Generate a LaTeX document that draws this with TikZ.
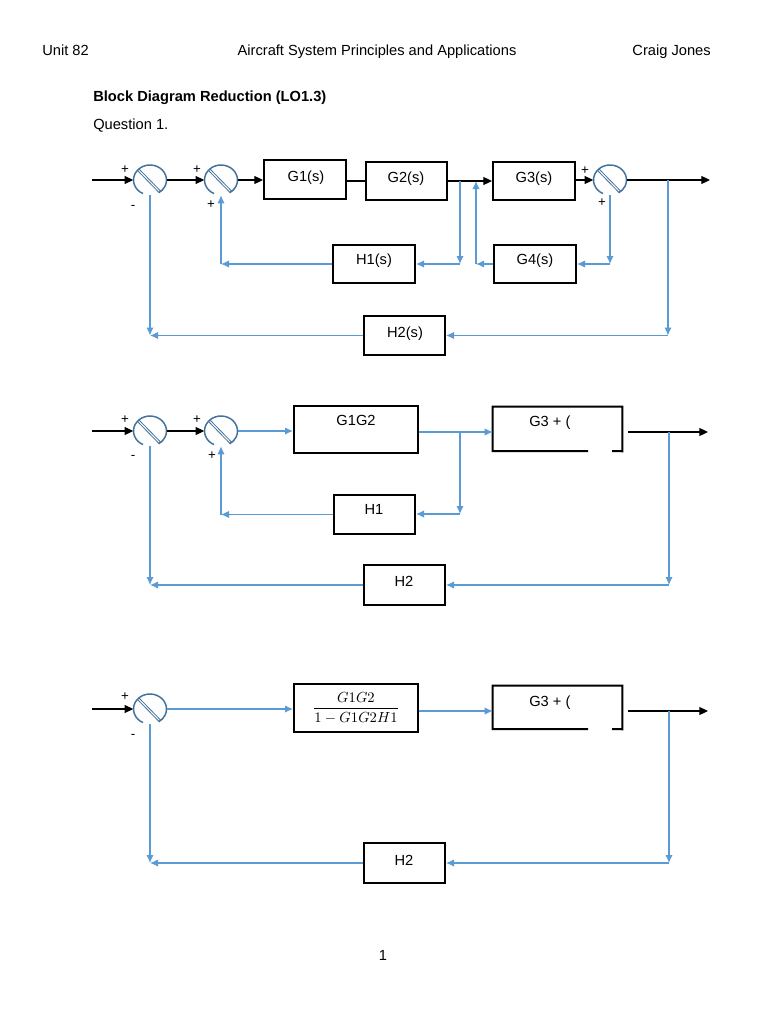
\documentclass[tikz,border=0pt]{standalone}
\usepackage{fontspec}
\setmainfont{Liberation Sans}
\usetikzlibrary{arrows.meta,shapes.geometric,fit}
\definecolor{fbblue}{RGB}{91,155,213}
\definecolor{sumblue}{RGB}{65,113,156}
\newcommand\drawsumj[1]{%
  \draw[sumline] ([shift={(115:16.5 and 15)}]#1.center) arc[start angle=115,end angle=418,x radius=16.5,y radius=15];
  \draw[sumline,line width=0.6pt] ([shift={(-12.5,-9.5)}]#1.center) -- ([shift={(9,12.5)}]#1.center);
  \draw[sumline,line width=0.6pt] ([shift={(-11,-11)}]#1.center) -- ([shift={(11,11.5)}]#1.center);
}
\begin{document}
\begin{tikzpicture}[x=0.75pt,y=-0.75pt,
  every node/.style={font=\fontsize{11}{13}\selectfont},
  box/.style={draw=black,line width=1.5pt,inner sep=0pt},
  hbox/.style={inner sep=0pt},
  sumj/.style={ellipse,minimum width=33*0.75pt,minimum height=30*0.75pt,inner sep=0pt},
  sumline/.style={draw=sumblue,line width=1.1pt},
  blk/.style={draw=black,line width=0.8pt,-{Triangle[length=6.5pt,width=6pt]}},
  blkline/.style={draw=black,line width=0.8pt},
  fb/.style={draw=fbblue,line width=0.9pt,-{Latex[length=6pt,width=5.5pt]}},
  lbl/.style={anchor=base,inner sep=0pt},
  sgn/.style={inner sep=0pt,font=\fontsize{10}{10}\selectfont},
  gapbox/.style={draw=black,line width=1.5pt}
]
\path[fill=white,use as bounding box] (0,0) rectangle (768,1024);

% ---------- header ----------
\node[anchor=base west,inner sep=0pt] (hdA) at (42,56) {Unit 82};
\node[anchor=base,inner sep=0pt] (hdB) at (377,56) {Aircraft System Principles and Applications};
\node[anchor=base east,inner sep=0pt] (hdC) at (711,56) {Craig Jones};
\node[anchor=base west,inner sep=0pt,font=\fontsize{11}{13}\selectfont\bfseries] (ttl) at (93,102) {Block Diagram Reduction (LO1.3)};
\node[anchor=base west,inner sep=0pt] (qst) at (93,129) {Question 1.};
\node[anchor=base,inner sep=0pt] (pg) at (383,960) {1};

% ================= Diagram 1 =================
\node[sumj] (s1a) at (150,180) {};
\node[sumj] (s1b) at (221,180) {};
\node[sumj] (s1c) at (610,180) {};
\drawsumj{s1a}\drawsumj{s1b}\drawsumj{s1c}
\node[sgn] (p1a) at (125,170) {+};
\node[sgn] (m1a) at (133,207) {-};
\node[sgn] (p1b) at (197,170) {+};
\node[sgn] (p1c) at (211,205) {+};
\node[sgn] (p1d) at (585,171) {+};
\node[sgn] (p1e) at (602,203) {+};
\coordinate (in1) at (92,180);
\coordinate (out1) at (710,180);
\coordinate (r1) at (0,181);
\node[box,fit={(264,160) (346,199)}] (G1) {};
\node[box,fit={(366,162) (447,200)}] (G2) {};
\node[box,fit={(493,162) (575,200)}] (G3) {};
\node[box,fit={(333,245) (415,283)}] (H1) {};
\node[box,fit={(494,245) (576,283)}] (G4) {};
\node[box,fit={(364,316) (445,355)}] (H2) {};
\node[lbl] (tG1) at (306,181) {G1(s)};
\node[lbl] (tG2) at (406,182) {G2(s)};
\node[lbl] (tG3) at (534,182) {G3(s)};
\node[lbl] (tH1) at (374,264) {H1(s)};
\node[lbl] (tG4) at (535,264) {G4(s)};
\node[lbl] (tH2) at (405,337) {H2(s)};
\draw[blk] (in1) -- (s1a.west);
\draw[blk] (s1a.east) -- (s1b.west);
\draw[blk] (s1b.east) -- (s1b.east -| G1.west);
\draw[blkline] (G1.east |- r1) -- (G2.west |- r1);
\draw[blk] (G2.east |- r1) -- (G3.west |- r1);
\draw[blk] (G3.east |- s1c) -- (s1c.west);
\draw[blk] (s1c.east) -- (out1);
\coordinate (j1) at (460,181);
\coordinate (j2) at (476,181);
\coordinate (j3) at (668,180);
\coordinate (c1) at (460,264);
\coordinate (c2) at (476,264);
\coordinate (c3) at (s1c.south |- G4.east);
\coordinate (c4) at (s1b.south |- H1.west);
\coordinate (c5) at (j3 |- H2.east);
\coordinate (c6) at (s1a.south |- H2.west);
\draw[fb] (j1) -- (c1);
\draw[fb] (c1) -- (c1 -| H1.east);
\draw[fb] (G4.west |- c2) -- (c2);
\draw[fb] (c2) -- (j2);
\draw[fb] (s1c.south) -- (c3);
\draw[fb] (c3) -- (G4.east);
\draw[fb] (H1.west) -- (c4);
\draw[fb] (c4) -- (s1b.south);
\draw[fb] (j3) -- (c5);
\draw[fb] (c5) -- (H2.east);
\draw[fb] (H2.west) -- (c6);
\draw[fb] (s1a.south) -- (c6);

% ================= Diagram 2 =================
\node[sumj] (s2a) at (150,431) {};
\node[sumj] (s2b) at (221,431) {};
\drawsumj{s2a}\drawsumj{s2b}
\node[sgn] (p2a) at (125,420) {+};
\node[sgn] (m2a) at (133,457) {-};
\node[sgn] (p2b) at (197,420) {+};
\node[sgn] (p2c) at (212,456) {+};
\coordinate (in2) at (92,431);
\coordinate (r2) at (0,432);
\node[box,fit={(294,406) (418,453)}] (G12) {};
\node[hbox,fit={(493,407) (622,451)}] (G3b) {};
\draw[gapbox] (588,451) -| (G3b.north west) -| (G3b.south east) -- (612,451);
\node[box,fit={(334,495) (415,534)}] (H1b) {};
\node[box,fit={(364,565) (445,605)}] (H2b) {};
\node[lbl] (tG12) at (356,425) {G1G2};
\begin{scope}
  \clip (493,400) rectangle (571,440);
  \node[lbl,anchor=base west] (tG3b) at (529,426) {G3 + (};
\end{scope}
\node[lbl] (tH1b) at (374,514) {H1};
\node[lbl] (tH2b) at (404,586) {H2};
\coordinate (out2) at (708,432);
\draw[blk] (in2) -- (s2a.west);
\draw[blk] (s2a.east) -- (s2b.west);
\draw[fb] (s2b.east) -- (s2b.east -| G12.west);
\draw[fb] (G12.east |- r2) -- (G3b.west |- r2);
\draw[blk] ([xshift=4.5pt]G3b.east |- r2) -- (out2);
\coordinate (j4) at (460,432);
\coordinate (c7) at (460,514);
\coordinate (c8) at (s2b.south |- H1b.west);
\coordinate (j5) at (669,432);
\coordinate (c9) at (j5 |- H2b.east);
\coordinate (c10) at (s2a.south |- H2b.west);
\draw[fb] (j4) -- (c7);
\draw[fb] (c7) -- (c7 -| H1b.east);
\draw[fb] (H1b.west) -- (c8);
\draw[fb] (c8) -- (s2b.south);
\draw[fb] (j5) -- (c9);
\draw[fb] (c9) -- (H2b.east);
\draw[fb] (H2b.west) -- (c10);
\draw[fb] (s2a.south) -- (c10);

% ================= Diagram 3 =================
\node[sumj] (s3a) at (150,709) {};
\drawsumj{s3a}
\node[sgn] (p3a) at (125,697) {+};
\node[sgn] (m3a) at (133,736) {-};
\coordinate (in3) at (92,709);
\coordinate (r3) at (0,711);
\node[box,fit={(294,684) (418,732)}] (FR) {};
\node[hbox,fit={(493,686) (622,729)}] (G3c) {};
\draw[gapbox] (588,729) -| (G3c.north west) -| (G3c.south east) -- (612,729);
\node[box,fit={(364,843) (445,883)}] (H2c) {};
\node (tFR) at (356,708) {$\displaystyle\frac{G1G2}{1-G1G2H1}$};
\begin{scope}
  \clip (493,680) rectangle (571,720);
  \node[lbl,anchor=base west] (tG3c) at (529,706) {G3 + (};
\end{scope}
\node[lbl] (tH2c) at (404,865) {H2};
\coordinate (out3) at (708,711);
\draw[blk] (in3) -- (s3a.west);
\draw[fb] (s3a.east) -- (s3a.east -| FR.west);
\draw[fb] (FR.east |- r3) -- (G3c.west |- r3);
\draw[blk] ([xshift=4.5pt]G3c.east |- r3) -- (out3);
\coordinate (j6) at (669,711);
\coordinate (c11) at (j6 |- H2c.east);
\coordinate (c12) at (s3a.south |- H2c.west);
\draw[fb] (j6) -- (c11);
\draw[fb] (c11) -- (H2c.east);
\draw[fb] (H2c.west) -- (c12);
\draw[fb] (s3a.south) -- (c12);
\end{tikzpicture}
\end{document}
